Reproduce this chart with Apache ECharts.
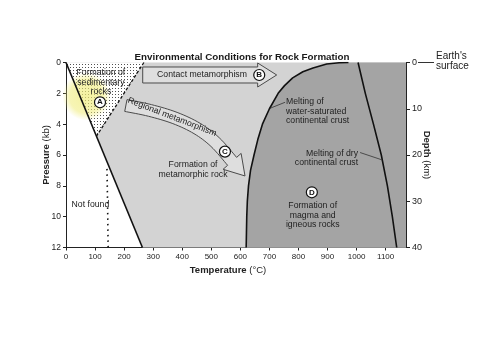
<!DOCTYPE html>
<html><head><meta charset="utf-8">
<script src="https://cdn.jsdelivr.net/npm/echarts@6/dist/echarts.min.js"></script>
<style>html,body{margin:0;padding:0;background:#fff}#c{width:480px;height:360px}</style>
</head><body><div id="c"></div>
<script>
// ---- data (temperature °C, pressure kb) ----
const tempTicks = [0,100,200,300,400,500,600,700,800,900,1000,1100];
const pressureTicks = [0,2,4,6,8,10,12];
const depthTicks = [0,10,20,30,40];
const tempMax = 1170;
const pressureMax = 12;
const depthMax = 40;

const metamorphicBoundary = [[0,0],[263,12]];
const sedimentaryBoundary = [[268,0],[105,4.77]];
const wetMelting = [[620,12],[621,11],[622,10],[624,9],[628,8],[635,7],[647,6],[660,5],[676,4],[700,3],[730,2],[752,1.5],[780,1],[815,0.6],[850,0.35],[897,0.1],[940,0.02],[972,0]];
const dryMelting = [[1005,0],[1030,2],[1058,4],[1085,6],[1106,8],[1123,10],[1138,12]];
const notFoundLine = [[141,6.9],[143,9],[145,12]];
const contactArrow = [[264,0.81],[725,0.81]];
const regionalArrow = [[206,2.79],[289,3.11],[375,3.6],[451,4.28],[513,5.16],[616,7.36]];
const wetLeader = [[754,2.58],[702,2.97]];
const dryLeader = [[1012,5.84],[1088,6.32]];
const markerLabels = ['A','B','C','D'];
const markerPoints = [[117,2.58],[665,0.81],[547,5.78],[846,8.42]];
const regionTexts = ['Formation of\nsedimentary\nrocks','Contact metamorphism','Regional metamorphism','Formation of\nmetamorphic rock','Melting of\nwater-saturated\ncontinental crust','Melting of dry\ncontinental crust','Not found','Formation of\nmagma and\nigneous rocks'];
const regionTextPoints = [[120,1.28],[468,0.81],[365,3.53],[437,6.94],[757,3.18],[1005,6.19],[84,9.2],[849,9.92]];
const highlightPoint = [70,2.2];

// ---- styles ----
const textAlign = ['center','center','center','center','left','right','center','center'];
const textRotate = [0,0,-21,0,0,0,0,0];
const FONT = '"Liberation Sans", Arial, Helvetica, sans-serif';

const pc = document.createElement('canvas'); pc.width = 3; pc.height = 3;
const pctx = pc.getContext('2d');
pctx.fillStyle = '#ffffff'; pctx.fillRect(0,0,3,3);
pctx.fillStyle = '#505050'; pctx.fillRect(1,1,1,1);
const dotPattern = {image: pc, repeat: 'repeat'};

function polySeries(pts, style, z) {
  return {
    type: 'custom', z: z, silent: true, xAxisIndex: 0, yAxisIndex: 0,
    data: pts, encode: {x: 0, y: 1},
    renderItem: function (params, api) {
      if (params.dataIndex !== 0) return null;
      return {type: 'polygon', shape: {points: pts.map(p => api.coord(p))}, style: style};
    }
  };
}
function lineSeries(pts, color, width, type, z) {
  return {type: 'line', data: pts, symbol: 'none', silent: true, z: z, xAxisIndex: 0, yAxisIndex: 0,
    lineStyle: {color: color, width: width, type: type}};
}
function catmull(pts, seg) {
  const out = [];
  for (let i = 0; i < pts.length - 1; i++) {
    const p0 = pts[Math.max(i-1,0)], p1 = pts[i], p2 = pts[i+1], p3 = pts[Math.min(i+2, pts.length-1)];
    for (let s = 0; s < seg; s++) {
      const t = s/seg, t2 = t*t, t3 = t2*t;
      out.push([0,1].map(k => 0.5*((2*p1[k]) + (-p0[k]+p2[k])*t + (2*p0[k]-5*p1[k]+4*p2[k]-p3[k])*t2 + (-p0[k]+3*p1[k]-3*p2[k]+p3[k])*t3)));
    }
  }
  out.push(pts[pts.length-1]);
  return out;
}
function arrowPolygon(pts, bodyHalf, headHalf, headLen) {
  const n = pts.length;
  const tip = pts[n-1], prev = pts[n-2];
  let dx = tip[0]-prev[0], dy = tip[1]-prev[1];
  const L = Math.hypot(dx, dy); dx /= L; dy /= L;
  const base = [tip[0]-dx*headLen, tip[1]-dy*headLen];
  let body = pts.slice(0, n-1).concat([base]);
  if (body.length > 2) body = catmull(body, 8);
  const left = [], right = [];
  for (let i = 0; i < body.length; i++) {
    let tx, ty;
    if (i === 0) { tx = body[1][0]-body[0][0]; ty = body[1][1]-body[0][1]; }
    else if (i === body.length-1) { tx = dx; ty = dy; }
    else { tx = body[i+1][0]-body[i-1][0]; ty = body[i+1][1]-body[i-1][1]; }
    const l = Math.hypot(tx, ty) || 1; tx /= l; ty /= l;
    left.push([body[i][0]-ty*bodyHalf, body[i][1]+tx*bodyHalf]);
    right.push([body[i][0]+ty*bodyHalf, body[i][1]-tx*bodyHalf]);
  }
  const hl = [base[0]-dy*headHalf, base[1]+dx*headHalf], hr = [base[0]+dy*headHalf, base[1]-dx*headHalf];
  return left.concat([hl, tip, hr], right.reverse());
}
function arrowSeries(pts, bodyHalf, headHalf, headLen, z) {
  return {
    type: 'custom', z: z, silent: true, xAxisIndex: 0, yAxisIndex: 0,
    data: pts, encode: {x: 0, y: 1},
    renderItem: function (params, api) {
      if (params.dataIndex !== 0) return null;
      const px = pts.map(p => api.coord(p));
      return {type: 'polygon', shape: {points: arrowPolygon(px, bodyHalf, headHalf, headLen)},
        style: {fill: '#dedede', stroke: '#4a4a4a', lineWidth: 1}};
    }
  };
}

const lightRegion = [metamorphicBoundary[0], [tempMax,0], [tempMax,pressureMax], metamorphicBoundary[1]];
const sedRegion = [metamorphicBoundary[0], sedimentaryBoundary[0], sedimentaryBoundary[1]];
const darkRegion = wetMelting.concat([[tempMax,0],[tempMax,pressureMax]]);

const chart = echarts.init(document.getElementById('c'), null, {renderer: 'canvas'});
const axisText = {color: '#222', fontFamily: FONT};
chart.setOption({
  animation: false,
  backgroundColor: '#ffffff',
  textStyle: {fontFamily: FONT},
  title: {text: 'Environmental Conditions for Rock Formation', left: 237, textAlign: 'center', top: 47,
    textStyle: {fontSize: 9.8, fontWeight: 'bold', color: '#1a1a1a', fontFamily: FONT}},
  grid: {left: 66, right: 74, top: 62.5, bottom: 112.5, containLabel: false, outerBoundsMode: 'none'},
  xAxis: {type: 'value', min: 0, max: tempMax, interval: 100,
    axisLine: {show: true, onZero: false, lineStyle: {color: '#222', width: 1}},
    axisTick: {show: true, length: 3, lineStyle: {color: '#222'}, customValues: tempTicks},
    axisLabel: Object.assign({fontSize: 8, margin: 5, customValues: tempTicks,
      formatter: v => tempTicks.indexOf(v) >= 0 ? String(v) : ''}, axisText),
    splitLine: {show: false},
    name: '{b|Temperature} (°C)', nameLocation: 'middle', nameGap: 18, nameMoveOverlap: false,
    nameTextStyle: {fontSize: 9.5, color: '#222', fontFamily: FONT, padding: [0, 16, 0, 0],
      rich: {b: {fontSize: 9.5, fontWeight: 'bold', color: '#222', fontFamily: FONT}}}
  },
  yAxis: [
    {type: 'value', inverse: true, min: 0, max: pressureMax, interval: 2, position: 'left',
      axisLine: {show: true, onZero: false, lineStyle: {color: '#222', width: 1}},
      axisTick: {show: true, length: 3, lineStyle: {color: '#222'}},
      axisLabel: Object.assign({fontSize: 8.5, margin: 5}, axisText),
      splitLine: {show: false},
      name: '{b|Pressure} (kb)', nameLocation: 'middle', nameGap: 15, nameMoveOverlap: false,
      nameTextStyle: {fontSize: 9.5, color: '#222', fontFamily: FONT,
        rich: {b: {fontSize: 9.5, fontWeight: 'bold', color: '#222', fontFamily: FONT}}}
    },
    {type: 'value', inverse: true, min: 0, max: depthMax, interval: 10, position: 'right',
      axisLine: {show: true, onZero: false, lineStyle: {color: '#222', width: 1}},
      axisTick: {show: true, length: 4, lineStyle: {color: '#222'}},
      axisLabel: Object.assign({fontSize: 9, margin: 6}, axisText),
      splitLine: {show: false},
      name: '{b|Depth} (km)', nameLocation: 'middle', nameGap: 16, nameRotate: -90, nameMoveOverlap: false,
      nameTextStyle: {fontSize: 9.5, color: '#222', fontFamily: FONT,
        rich: {b: {fontSize: 9.5, fontWeight: 'bold', color: '#222', fontFamily: FONT}}}
    }
  ],
  graphic: [
    {type: 'line', shape: {x1: 418, y1: 62.5, x2: 434, y2: 62.5}, style: {stroke: '#333', lineWidth: 1}},
    {type: 'text', x: 436, y: 61, style: {text: "Earth's\nsurface", fill: '#222', font: '10px ' + FONT,
      align: 'left', verticalAlign: 'middle', lineHeight: 10}}
  ],
  series: [
    polySeries(lightRegion, {fill: '#d3d3d3'}, 1),
    polySeries(darkRegion, {fill: '#a4a4a4'}, 2),
    polySeries(sedRegion, {fill: dotPattern}, 2),
    {type: 'custom', z: 3, silent: true, xAxisIndex: 0, yAxisIndex: 0, data: [highlightPoint], encode: {x: 0, y: 1},
      renderItem: function (params, api) {
        const c = api.coord([api.value(0), api.value(1)]);
        return {type: 'circle', shape: {cx: c[0], cy: c[1], r: 24},
          style: {fill: {type: 'radial', x: 0.5, y: 0.5, r: 0.5, colorStops: [
            {offset: 0, color: 'rgba(240,236,120,0.7)'}, {offset: 0.7, color: 'rgba(240,236,120,0.55)'},
            {offset: 1, color: 'rgba(240,236,120,0)'}]}}};
      }},
    arrowSeries(contactArrow, 8, 12, 19, 4),
    arrowSeries(regionalArrow, 6, 12, 19.5, 4),
    lineSeries(metamorphicBoundary, '#111', 1.6, 'solid', 5),
    lineSeries(sedimentaryBoundary, '#111', 1.3, [3, 2], 5),
    lineSeries(wetMelting, '#111', 1.6, 'solid', 5),
    lineSeries(dryMelting, '#111', 1.6, 'solid', 5),
    lineSeries(notFoundLine, '#111', 1.6, [1.5, 4], 5),
    lineSeries(wetLeader, '#333', 0.8, 'solid', 5),
    lineSeries(dryLeader, '#333', 0.8, 'solid', 5),
    {type: 'custom', z: 6, silent: true, xAxisIndex: 0, yAxisIndex: 0,
      data: regionTextPoints.map((p, i) => [p[0], p[1], i]), encode: {x: 0, y: 1},
      renderItem: function (params, api) {
        const i = api.value(2);
        const c = api.coord([api.value(0), api.value(1)]);
        return {type: 'text', x: c[0], y: c[1], rotation: textRotate[i] * Math.PI / 180,
          style: {text: regionTexts[i], fill: '#222', font: '8.7px ' + FONT, align: textAlign[i],
            verticalAlign: 'middle', lineHeight: 9.5}};
      }},
    {type: 'scatter', z: 7, silent: true, xAxisIndex: 0, yAxisIndex: 0, data: markerPoints,
      symbol: 'circle', symbolSize: 11,
      itemStyle: {color: '#ffffff', borderColor: '#111', borderWidth: 1.2, opacity: 1},
      label: {show: true, position: 'inside', formatter: p => markerLabels[p.dataIndex],
        fontSize: 8, fontWeight: 'bold', color: '#111', fontFamily: FONT}}
  ]
});
</script></body></html>
